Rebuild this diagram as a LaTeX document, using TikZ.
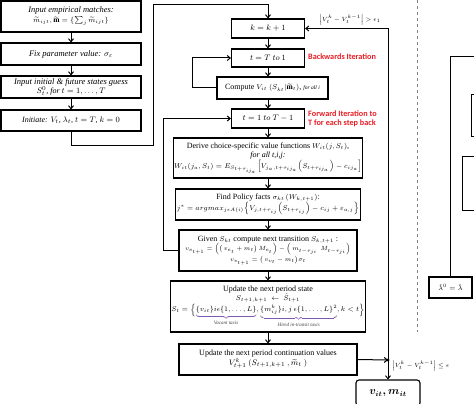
\documentclass[tikz,border=0pt]{standalone}
\usepackage{amsmath}
\usepackage{fontspec}
\setmainfont{Liberation Serif}
\newfontfamily\redfont{Carlito}
\usetikzlibrary{arrows.meta}
\definecolor{itred}{RGB}{232,28,36}
\definecolor{bracecol}{RGB}{125,90,175}
\newcommand{\tinylab}[1]{\mbox{\fontsize{5}{5}\selectfont\itshape\color{darkgray}#1}}
\newcommand{\msz}[1]{{\fontsize{#1}{#1}\selectfont}}
\begin{document}
\begin{tikzpicture}[x=1pt,y=-1pt,
  box/.style={draw, line width=1.1pt, align=center, inner sep=1pt, font=\fontsize{8}{9.5}\selectfont},
  lbox/.style={box, font=\fontsize{8.5}{9.5}\selectfont\itshape},
  arr/.style={-{Straight Barb[length=3pt,width=5pt]}, line width=1pt},
  ln/.style={line width=1pt},
  note/.style={font=\fontsize{6.5}{8}\selectfont, inner sep=1pt},
  bignote/.style={font=\fontsize{10.5}{11}\selectfont},
  redlabel/.style={text=itred, font=\redfont\bfseries\fontsize{8.2}{9.5}\selectfont, align=left, inner sep=1pt}]
\useasboundingbox (0,0) rectangle (474,404);
\clip (0,0) rectangle (474,404);

% left column
\node[lbox, minimum width=140, minimum height=31] (in1) at (71,16.5) {Input empirical matches:\\ {\fontsize{7.5}{9}\selectfont $\widetilde{m}_{ijt}, \widetilde{\mathbf{m}} = \{\sum_j \widetilde{m}_{ijt}\}$}};
\node[lbox, minimum width=140, minimum height=22] (fix) at (71,54) {Fix parameter value: $\sigma_\varepsilon$};
\node[lbox, minimum width=140, minimum height=22] (guess) at (71,87) {Input initial \& future states guess\\ {\fontsize{8}{9}\selectfont $S_t^0$, for $t = 1, \ldots, T$}};
\node[lbox, minimum width=140, minimum height=21] (initiate) at (71,120.5) {{\fontsize{8}{9}\selectfont Initiate: $V_t$, $\lambda_t$, $t = T$,\ $k = 0$}};

% middle column
\node[box, minimum width=73, minimum height=19] (k) at (268,28.5) {$k = k + 1$};
\node[box, minimum width=73, minimum height=18] (tT) at (268,58) {$t = T\ to\ 1$};
\node[box, minimum width=111, minimum height=22] (comp) at (272.5,88) {Compute {\fontsize{7.5}{9}\selectfont$V_{it}\ (S_{kt}\vert\widetilde{\mathbf{m}}_t)$}, {\fontsize{5.5}{6}\selectfont\itshape for all i}};
\node[box, minimum width=73, minimum height=19] (t1) at (268,118.5) {$t = 1\ to\ T - 1$};
\node[box, minimum width=178, minimum height=40] (derive) at (268,158) {Derive choice-specific value functions {\fontsize{7}{9}\selectfont$W_{it}(j,S_t)$},\\ {\itshape for all t,i,j:}\\ {\fontsize{6.7}{9}\selectfont $W_{it}(j_a,S_t) = E_{S_{t+\tau_{ij_a}}}\Big[V_{j_a,t+\tau_{ij_a}}\Big(S_{t+\tau_{ij_a}}\Big) - c_{ij_a}\Big]$}};
\node[box, minimum width=178, minimum height=31] (find) at (268,204.5) {Find Policy facts {\fontsize{7.5}{9}\selectfont$\sigma_{kt}\,(W_{k,t+1})$}:\\ {\fontsize{7}{9}\selectfont $j^* = argmax_{j\epsilon A(i)}\Big\{V_{j,t+\tau_{ij}}\Big(S_{t+\tau_{ij}}\Big) - c_{ij} + \varepsilon_{a,j}\Big\}$}};
\node[box, minimum width=178, minimum height=41] (given) at (268,250.5) {Given {\fontsize{7.5}{9}\selectfont$S_{kt}$} compute next transition {\fontsize{7.5}{9}\selectfont$S_{k,t+1}$} :\\ {\fontsize{6.5}{9}\selectfont $v_{e_{t+1}} = \Big(\big(\,v_{e_t} + m_t\big)\,M_{e_t}\Big) - \Big(\,m_{t-\tau_{ji}}\ \ M_{t-\tau_{ji}}\Big)$}\\ {\fontsize{6.5}{8}\selectfont $v_{v_{t+1}} = \big(\,v_{v_t} - m_t\big)\sigma_t$}};
\node[box, minimum width=190, minimum height=51] (upstate) at (268,306.5) {Update the next period state\\ {\fontsize{7}{9}\selectfont $S_{t+1,k+1}\ \leftarrow\ \hat{S}_{t+1}$}\\ {\fontsize{7}{9}\selectfont $S_t = \Big\{{\color{bracecol}\underbrace{{\color{black}\{v_{it}\}i\epsilon\{1,\ldots,L\}}}_{\tinylab{Vacant taxis}}}, {\color{bracecol}\underbrace{{\color{black}\{m^k_{ij}\}i,j\,\epsilon\{1,\ldots,L\}^2}}_{\tinylab{Hired in-transit taxis}}},k<t\Big\}$}};
\node[box, minimum width=178, minimum height=31] (upcont) at (268,359.5) {Update the next period continuation values\\ {\fontsize{8}{9}\selectfont $V^k_{t+1}\ (S_{t+1,k+1}\ ,\widetilde{m}_t\ )$}};
\node[box, bignote, rounded corners=3pt, minimum width=64, minimum height=26] (vm) at (388,393) {$\boldsymbol{v_{it}, m_{it}}$};

% labels
\node[note] (gt) at (350,20) {$\left|V_t^k - V_t^{k-1}\right| > \epsilon_1$};
\node[note, anchor=west] (le) at (391,366) {$\left|V_t^k - V_t^{k-1}\right| \le \epsilon$};
\node[redlabel, anchor=west] (bw) at (307,57) {Backwards Iteration};
\node[redlabel, anchor=west] (fw) at (307,119) {Forward Iteration to\\T for each step back};

% connectors left
\draw[arr] (in1.south) -- (fix.north);
\draw[arr] (fix.south) -- (guess.north);
\draw[arr] (guess.south) -- (initiate.north);
\coordinate (c1) at (153,145);
\coordinate (c2) at (153,4.3);
\draw[arr] (initiate.south) |- (c1) -- (c2) -| (k.north);

% connectors middle
\draw[arr] (k.south) -- (tT.north);
\draw[arr] (tT.south) -- (tT.south |- comp.north);
\draw[arr] (comp.west) -- ++(-24,0) |- (tT.west);
\draw[arr] (t1.north |- comp.south) -- (t1.north);
\draw[arr] (t1.south) -- (derive.north);
\draw[arr] (derive.south) -- (find.north);
\draw[arr] (find.south) -- (given.north);
\draw[arr] (given.south) -- (upstate.north);
\draw[arr] (upstate.south) -- (upcont.north);
\draw[arr] (given.west) -- ++(-15,0) |- (t1.west);

% right loop
\coordinate (jn) at (388,360);
\draw[arr] (upcont.east) -- (jn);
\draw[arr] (jn) |- (k.east);
\draw[arr] (jn) -- (vm.north);
\fill (jn) circle (1.6);

% right side
\draw[gray, dashed, line width=0.6pt] (417,0) -- (417,332);
\node[box, minimum width=43, minimum height=21, font=\fontsize{7}{8}\selectfont] (lam) at (450.5,287.5) {$\hat\lambda^0 = \hat\lambda$};
\coordinate (re) at (480,57);
\draw[ln] (lam.north) |- (re);
\draw[ln] (471,94) rectangle (490,136);
\draw[ln] (462,156) rectangle (490,210);
\end{tikzpicture}
\end{document}
